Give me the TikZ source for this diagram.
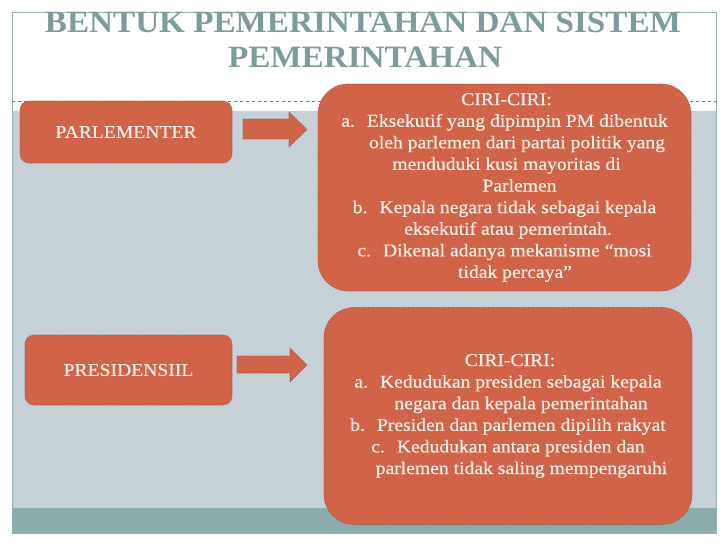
\documentclass[tikz,border=0pt]{standalone}
\usepackage{fontspec}
\setmainfont{Liberation Serif}
\newfontfamily\bodyfont{Liberation Serif}[FakeStretch=1.09,FakeBold=0.35]
\newfontfamily\titlefont{Liberation Serif}[FakeStretch=1.07]
\definecolor{boxfill}{RGB}{209,99,73}
\definecolor{boxline}{RGB}{150,88,78}
\definecolor{textc}{RGB}{253,242,235}
\definecolor{bandgray}{RGB}{197,209,215}
\definecolor{bandteal}{RGB}{140,172,172}
\definecolor{framec}{RGB}{150,178,178}
\definecolor{titlec}{RGB}{124,156,155}
\tikzset{
  titlestyle/.style={anchor=base, inner sep=0pt, text=titlec, font=\titlefont\bfseries\fontsize{31}{36}\selectfont},
  smallbox/.style={draw=boxline, fill=boxfill, dash pattern=on 1.5pt off 1pt, line width=0.6pt, rounded corners=9pt, inner sep=0pt, text=textc, font=\bodyfont\fontsize{18}{21.6}\selectfont},
  bigbox/.style={draw=boxline, fill=boxfill, dash pattern=on 1.5pt off 1pt, line width=0.6pt, rounded corners=30pt, inner sep=0pt, align=center, text=textc, font=\bodyfont\fontsize{18}{21.6}\selectfont},
  blockarrow/.style={draw=boxline, fill=boxfill, dash pattern=on 1.5pt off 1pt, line width=0.6pt}
}
\begin{document}
\begin{tikzpicture}[x=1pt,y=-1pt]
\useasboundingbox (0,0) rectangle (728,546);
\fill[white] (0,0) rectangle (728,546);
\fill[bandgray] (12,111) rectangle (716,508);
\fill[bandteal] (12,508) rectangle (716,533);
\draw[framec, line width=0.8pt] (12,12) rectangle (716,533);
\draw[framec!70!black, dashed, line width=0.5pt] (12,101) -- (716,101);

\node[titlestyle] (title1) at (363,32) {BENTUK PEMERINTAHAN DAN SISTEM};
\node[titlestyle] (title2) at (365,67) {PEMERINTAHAN};

\node[smallbox, minimum width=212pt, minimum height=62pt] (parl) at (126,132) {PARLEMENTER};
\node[smallbox, minimum width=207pt, minimum height=70pt] (pres) at (128.5,370) {PRESIDENSIIL};

\node[bigbox, minimum width=373pt, minimum height=207pt] (ciri1) at (504.5,187.5) {%
\hspace*{4pt}CIRI-CIRI:\\
a.\hspace{12pt}Eksekutif yang dipimpin PM dibentuk\\
\hspace*{25pt}oleh parlemen dari partai politik yang\\
\hspace*{4pt}menduduki kusi mayoritas di\\
\hspace*{30pt}Parlemen\\
b.\hspace{12pt}Kepala negara tidak sebagai kepala\\
\hspace*{7pt}eksekutif atau pemerintah.\\
c.\hspace{12pt}Dikenal adanya mekanisme “mosi\\
\hspace*{21pt}tidak percaya”};

\node[bigbox, minimum width=368pt, minimum height=217pt] (ciri2) at (508,416) {%
\hspace*{4pt}CIRI-CIRI:\\
a.\hspace{12pt}Kedudukan presiden sebagai kepala\\
\hspace*{26pt}negara dan kepala pemerintahan\\
b.\hspace{12pt}Presiden dan parlemen dipilih rakyat\\
c.\hspace{12pt}Kedudukan antara presiden dan\\
\hspace*{27pt}parlemen tidak saling mempengaruhi};

\draw[blockarrow] (243,119) -- (289,119) -- (289,112) -- (307,129.5) -- (289,147) -- (289,139) -- (243,139) -- cycle;
\draw[blockarrow] (237,356) -- (290,356) -- (290,348) -- (307,365) -- (290,382) -- (290,373) -- (237,373) -- cycle;
\end{tikzpicture}
\end{document}
